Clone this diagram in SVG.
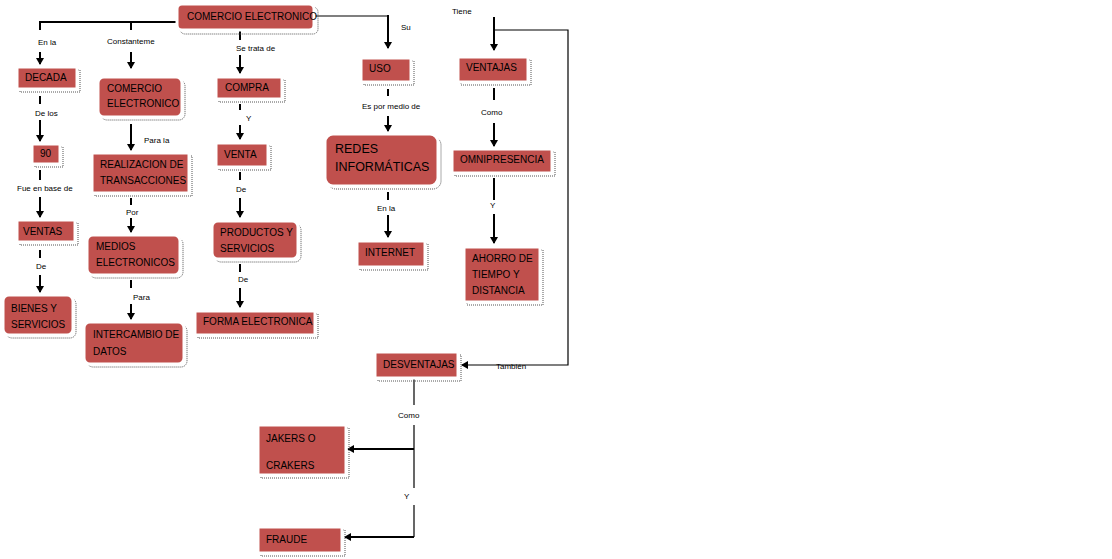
<svg xmlns="http://www.w3.org/2000/svg" width="1112" height="559" viewBox="0 0 1112 559">
<defs>
<marker id="ah" markerWidth="8" markerHeight="8" refX="6" refY="4" orient="auto" markerUnits="userSpaceOnUse"><path d="M0,0 L7,4 L0,8 z" fill="#000"/></marker>
</defs>
<style>
.sh{fill:none;stroke:#555;stroke-width:1;stroke-dasharray:1 1}
.b{fill:#c0504d;stroke:#fff;stroke-width:3}
.t{font-family:"Liberation Sans",Arial,sans-serif;font-size:10px;fill:#000}
.l{font-family:"Liberation Sans",Arial,sans-serif;font-size:8px;fill:#000}
.c line,.c path{stroke:#000;stroke-width:2;fill:none}
.c .thin{stroke-width:1.2}
.a{marker-end:url(#ah)}
</style>
<rect width="1112" height="559" fill="#fff"/>
<g class="c" id="connectors">
<line x1="40" y1="22" x2="177" y2="22"/>
<line x1="40" y1="21" x2="40" y2="30"/><line class="a" x1="40" y1="52" x2="40" y2="64"/>
<line x1="40" y1="96" x2="40" y2="104"/><line class="a" x1="40" y1="120" x2="40" y2="141"/>
<line x1="40" y1="170" x2="40" y2="180"/><line class="a" x1="40" y1="197" x2="40" y2="217"/>
<line x1="40" y1="250" x2="40" y2="258"/><line class="a" x1="40" y1="275" x2="40" y2="292"/>
<line x1="131" y1="22" x2="131" y2="30"/><line class="a" x1="131" y1="52" x2="131" y2="68"/>
<line class="a" x1="131" y1="124" x2="131" y2="150"/>
<line x1="131" y1="198" x2="131" y2="205"/><line class="a" x1="131" y1="218" x2="131" y2="232"/>
<line x1="131" y1="280" x2="131" y2="288"/><line class="a" x1="131" y1="304" x2="131" y2="319"/>
<line x1="240" y1="31" x2="240" y2="40"/><line class="a" x1="240" y1="55" x2="240" y2="73"/>
<line x1="240" y1="104" x2="240" y2="110"/><line class="a" x1="240" y1="125" x2="240" y2="139"/>
<line x1="240" y1="172" x2="240" y2="180"/><line class="a" x1="240" y1="198" x2="240" y2="217"/>
<line x1="240" y1="264" x2="240" y2="272"/><line class="a" x1="240" y1="288" x2="240" y2="307"/>
<path class="thin" d="M314,16 H388"/><line class="a" x1="388" y1="15" x2="388" y2="48"/>
<line x1="388" y1="89" x2="388" y2="96"/><line class="a" x1="388" y1="116" x2="388" y2="131"/>
<line x1="388" y1="192" x2="388" y2="200"/><line class="a" x1="388" y1="215" x2="388" y2="237"/>
<line class="a" x1="494" y1="17" x2="494" y2="50"/>
<path class="thin a" d="M494,30 H568 V365 H462"/>
<line x1="494" y1="88" x2="494" y2="100"/><line class="a" x1="494" y1="123" x2="494" y2="146"/>
<line x1="494" y1="178" x2="494" y2="200"/><line class="a" x1="494" y1="214" x2="494" y2="243"/>
<path class="thin" d="M414,378 V405"/>
<path class="thin" d="M414,425 V488"/>
<path class="thin" d="M414,505 V537"/>
<line class="a" x1="414" y1="449" x2="348" y2="449"/>
<line class="a" x1="414" y1="537" x2="345" y2="537"/>
</g>
<g class="l" id="labels">
<text x="38" y="45">En la</text>
<text x="107" y="44">Constanteme</text>
<text x="35" y="116">De los</text>
<text x="17" y="191">Fue en base de</text>
<text x="36" y="269">De</text>
<text x="144" y="143">Para la</text>
<text x="126" y="215">Por</text>
<text x="133" y="300">Para</text>
<text x="236" y="51">Se trata de</text>
<text x="246" y="121">Y</text>
<text x="236" y="192">De</text>
<text x="238" y="282">De</text>
<text x="401" y="30">Su</text>
<text x="362" y="109">Es por medio de</text>
<text x="377" y="211">En la</text>
<text x="452" y="14">Tiene</text>
<text x="481" y="115">Como</text>
<text x="490" y="208">Y</text>
<text x="496" y="369">También</text>
<text x="398" y="418">Como</text>
<text x="404" y="499">Y</text>
</g>
<g id="n1"><rect class="sh" x="180" y="7" width="138" height="27" rx="5"/><rect class="b" x="177" y="4" width="137" height="26" rx="5"/><text class="t" x="187" y="20">COMERCIO  ELECTRONICO</text></g>
<g id="n2"><rect class="sh" x="20" y="70" width="60" height="22"/><rect class="b" x="17" y="67" width="60" height="22"/><text class="t" x="25" y="81">DECADA</text></g>
<g id="n3"><rect class="sh" x="101" y="80" width="84" height="40" rx="6"/><rect class="b" x="98" y="77" width="84" height="40" rx="6"/><text class="t" x="107" y="92">COMERCIO</text><text class="t" x="107" y="107">ELECTRONICO</text></g>
<g id="n4"><rect class="sh" x="219" y="80" width="66" height="22"/><rect class="b" x="216" y="77" width="66" height="22"/><text class="t" x="225" y="91">COMPRA</text></g>
<g id="n5"><rect class="sh" x="219" y="146" width="52" height="24"/><rect class="b" x="216" y="143" width="52" height="24"/><text class="t" x="224" y="158">VENTA</text></g>
<g id="n6"><rect class="sh" x="364" y="61" width="50" height="24"/><rect class="b" x="361" y="58" width="50" height="24"/><text class="t" x="369" y="72">USO</text></g>
<g id="n7"><rect class="sh" x="461" y="60" width="70" height="25"/><rect class="b" x="458" y="57" width="70" height="25"/><text class="t" x="466" y="71">VENTAJAS</text></g>
<g id="n8"><rect class="sh" x="328" y="137" width="113" height="52" rx="8"/><rect class="b" x="325" y="134" width="113" height="52" rx="8"/><text class="t" style="font-size:12.5px" x="335" y="153">REDES</text><text class="t" style="font-size:12.5px" x="335" y="171">INFORMÁTICAS</text></g>
<g id="n9"><rect class="sh" x="455" y="152" width="100" height="24"/><rect class="b" x="452" y="149" width="100" height="24"/><text class="t" x="460" y="163">OMNIPRESENCIA</text></g>
<g id="n10"><rect class="sh" x="35" y="147" width="28" height="20"/><rect class="b" x="32" y="144" width="28" height="20"/><text class="t" x="40" y="157">90</text></g>
<g id="n11"><rect class="sh" x="95" y="156" width="97" height="40"/><rect class="b" x="92" y="153" width="97" height="40"/><text class="t" x="100" y="168">REALIZACION DE</text><text class="t" x="100" y="184">TRANSACCIONES</text></g>
<g id="n12"><rect class="sh" x="20" y="223" width="58" height="22"/><rect class="b" x="17" y="220" width="58" height="22"/><text class="t" x="23" y="235">VENTAS</text></g>
<g id="n13"><rect class="sh" x="90" y="238" width="93" height="40" rx="6"/><rect class="b" x="87" y="235" width="93" height="40" rx="6"/><text class="t" x="96" y="250">MEDIOS</text><text class="t" x="96" y="266">ELECTRONICOS</text></g>
<g id="n14"><rect class="sh" x="215" y="224" width="86" height="38" rx="6"/><rect class="b" x="212" y="221" width="86" height="38" rx="6"/><text class="t" x="220" y="236">PRODUCTOS Y</text><text class="t" x="220" y="252">SERVICIOS</text></g>
<g id="n15"><rect class="sh" x="360" y="244" width="68" height="26"/><rect class="b" x="357" y="241" width="68" height="26"/><text class="t" x="365" y="256">INTERNET</text></g>
<g id="n16"><rect class="sh" x="467" y="250" width="76" height="55"/><rect class="b" x="464" y="247" width="76" height="55"/><text class="t" x="472" y="262">AHORRO DE</text><text class="t" x="472" y="278">TIEMPO Y</text><text class="t" x="472" y="294">DISTANCIA</text></g>
<g id="n17"><rect class="sh" x="6" y="298" width="70" height="40" rx="6"/><rect class="b" x="3" y="295" width="70" height="40" rx="6"/><text class="t" x="11" y="312">BIENES Y</text><text class="t" x="11" y="328">SERVICIOS</text></g>
<g id="n18"><rect class="sh" x="87" y="325" width="100" height="42" rx="6"/><rect class="b" x="84" y="322" width="100" height="42" rx="6"/><text class="t" x="93" y="338">INTERCAMBIO DE</text><text class="t" x="93" y="355">DATOS</text></g>
<g id="n19"><rect class="sh" x="198" y="314" width="120" height="24"/><rect class="b" x="195" y="311" width="120" height="24"/><text class="t" x="203" y="325">FORMA ELECTRONICA</text></g>
<g id="n20"><rect class="sh" x="378" y="355" width="83" height="26"/><rect class="b" x="375" y="352" width="83" height="26"/><text class="t" x="383" y="368">DESVENTAJAS</text></g>
<g id="n21"><rect class="sh" x="261" y="428" width="88" height="50"/><rect class="b" x="258" y="425" width="88" height="50"/><text class="t" x="266" y="442">JAKERS O</text><text class="t" x="266" y="469">CRAKERS</text></g>
<g id="n22"><rect class="sh" x="261" y="530" width="84" height="26"/><rect class="b" x="258" y="527" width="84" height="26"/><text class="t" x="266" y="543">FRAUDE</text></g>
</svg>
